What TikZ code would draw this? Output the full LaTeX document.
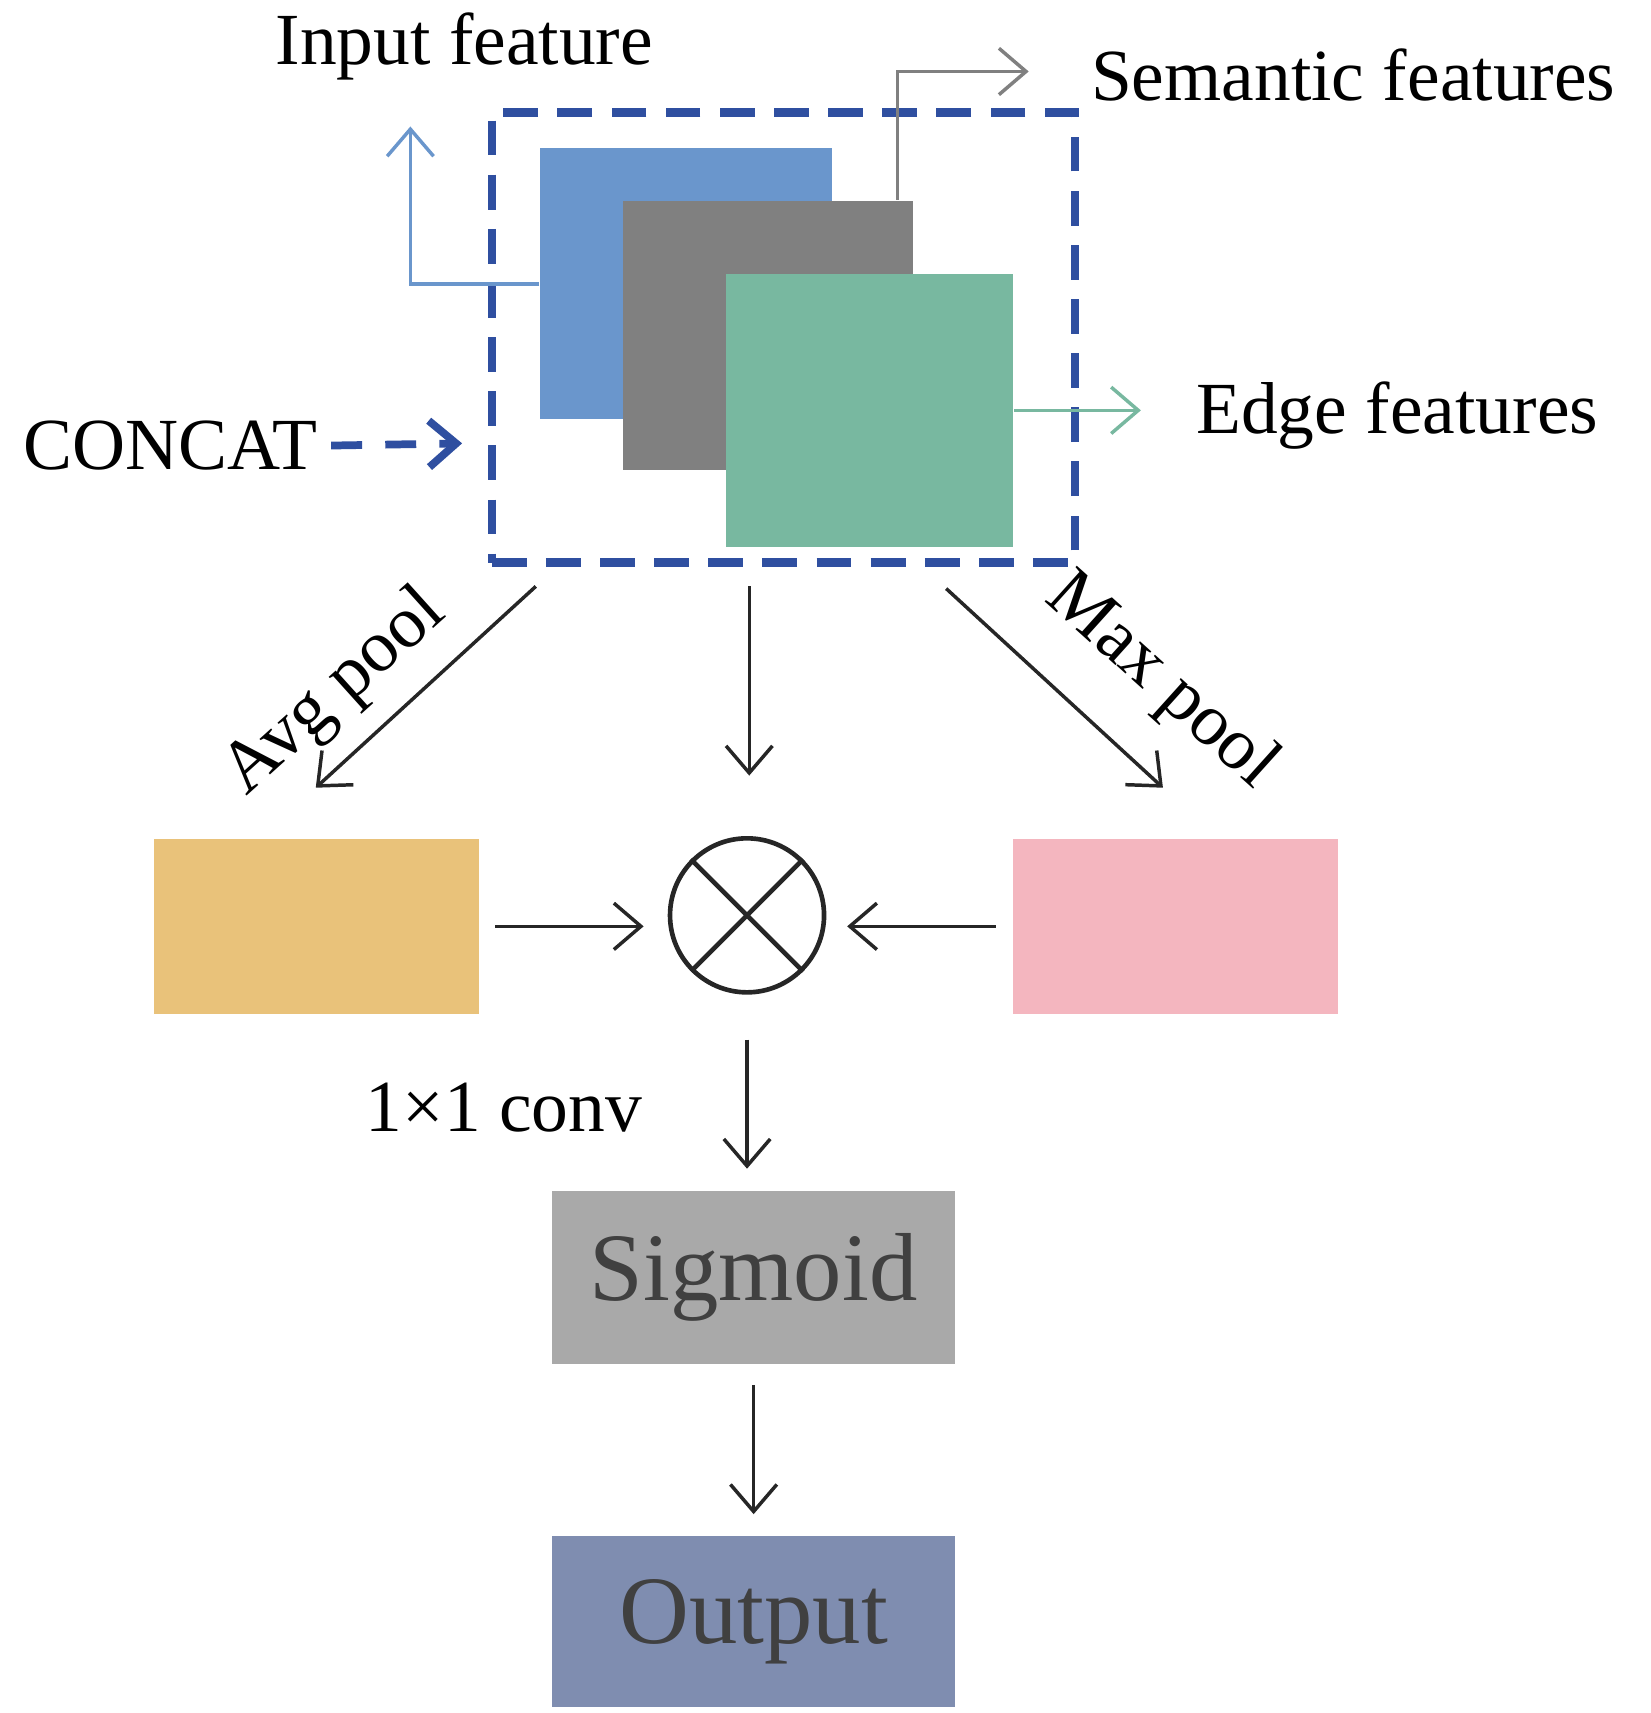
\documentclass[tikz,border=0pt]{standalone}
\usepackage{fontspec}
\setmainfont{Liberation Serif}
\usetikzlibrary{arrows.meta}
\definecolor{dashblue}{HTML}{2F4FA0}
\definecolor{featblue}{HTML}{6A96CC}
\definecolor{featgray}{HTML}{808080}
\definecolor{featgreen}{HTML}{78B8A0}
\definecolor{avgorange}{HTML}{E9C27A}
\definecolor{maxpink}{HTML}{F4B6BF}
\definecolor{sigray}{HTML}{A9A9A9}
\definecolor{outblue}{HTML}{7F8DB0}
\tikzset{
  lbl/.style={font=\fontsize{19}{21}\selectfont},
  blk/.style={inner sep=0pt,font=\fontsize{25}{28}\selectfont,text=black!75},
  arr/.style={->,>={Straight Barb[length=7pt,width=12pt]},line width=0.9pt,draw=black!85},
}
\begin{document}
\begin{tikzpicture}
\useasboundingbox (0,0) rectangle (15,15.57);
\node[draw=dashblue,dashed,line width=2.2pt,dash pattern=on 9pt off 5pt,minimum width=5.3cm,minimum height=4.09cm] (cat) at (7.12,12.5) {};
\node[fill=featblue,minimum width=2.65cm,minimum height=2.46cm] (blue) at (6.235,12.99) {};
\node[fill=featgray,minimum width=2.64cm,minimum height=2.45cm] (gray) at (6.98,12.52) {};
\node[fill=featgreen,minimum width=2.61cm,minimum height=2.48cm] (green) at (7.905,11.84) {};
\node[lbl] (inlab) at (4.22,15.15) {Input feature};
\node[lbl] (semlab) at (12.3,14.89) {Semantic features};
\node[lbl] (edgelab) at (12.7,11.79) {Edge features};
\node[lbl] (concat) at (1.55,11.52) {CONCAT};
\coordinate (inup) at (3.73,14.42);
\coordinate (semtip) at (9.35,14.92);
\coordinate (edgetip) at (10.37,11.84);
\coordinate (cattip) at (4.2,11.54);
\draw[arr,draw=featblue] (blue.west) -| (inup);
\draw[arr,draw=featgray] ([xshift=-0.15cm]gray.north east) |- (semtip);
\draw[arr,draw=featgreen] (green.east) -- (edgetip);
\draw[arr,draw=dashblue,line width=2pt,dash pattern=on 8pt off 6pt] (concat.east) -- (cattip);

\node[fill=avgorange,minimum width=2.95cm,minimum height=1.59cm] (avg) at (2.875,7.145) {};
\node[fill=maxpink,minimum width=2.95cm,minimum height=1.59cm] (max) at (10.685,7.145) {};
\node[draw=black!85,line width=1.2pt,circle,minimum size=1.4cm] (mul) at (6.79,7.25) {};
\draw[line width=1.2pt,black!85] (mul.north west) -- (mul.south east) (mul.north east) -- (mul.south west);
\node[fill=sigray,minimum width=3.66cm,minimum height=1.57cm,blk] (sig) at (6.85,3.955) {Sigmoid};
\node[fill=outblue,minimum width=3.66cm,minimum height=1.56cm,blk] (out) at (6.85,0.83) {Output};

\coordinate (a1) at (4.87,10.24); \coordinate (a2) at (2.87,8.41);
\coordinate (b1) at (6.81,10.24); \coordinate (b2) at (6.81,8.52);
\coordinate (c1) at (8.60,10.22); \coordinate (c2) at (10.57,8.41);
\draw[arr] (a1) -- (a2); \draw[arr] (b1) -- (b2); \draw[arr] (c1) -- (c2);
\node[lbl,rotate=42] (avglab) at (3.05,9.27) {Avg pool};
\node[lbl,rotate=-42] (maxlab) at (10.55,9.37) {Max pool};
\coordinate (h1) at (4.5,7.15); \coordinate (h2) at (5.85,7.15);
\coordinate (k1) at (9.05,7.15); \coordinate (k2) at (7.7,7.15);
\draw[arr] (h1) -- (h2); \draw[arr] (k1) -- (k2);
\coordinate (d1) at (6.79,6.12);
\draw[arr] (d1) -- ([yshift=0.2cm]sig.north -| d1);
\node[lbl] (convlab) at (4.58,5.5) {1×1 conv};
\draw[arr] ([yshift=-0.18cm]sig.south) -- ([yshift=0.19cm]out.north);
\end{tikzpicture}
\end{document}
